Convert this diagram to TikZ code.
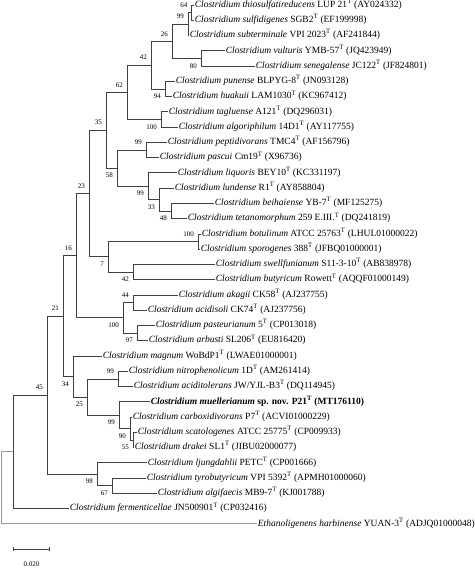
\documentclass[tikz,border=0pt]{standalone}
\usepackage{fontspec}
\setmainfont{Liberation Serif}
\usetikzlibrary{arrows.meta}
\newcommand{\taxon}[3]{\textit{#1} #2\textsuperscript{T} (#3)}
\tikzset{
  branch/.style={draw=black!75, line width=0.8pt},
  rootline/.style={draw=black!40, line width=1.1pt},
  leaf/.style={anchor=west, inner sep=0.6pt, text height=6.5pt, text depth=2pt, font=\fontsize{9.5}{11}\selectfont},
  bsa/.style={anchor=east, xshift=-4pt, yshift=7.5pt, inner sep=0pt, font=\fontsize{7}{8}\selectfont},
  bsb/.style={anchor=east, xshift=-4pt, yshift=-7.5pt, inner sep=0pt, font=\fontsize{7}{8}\selectfont},
  scalebar/.style={draw=black!75, line width=0.8pt, {Bar[width=4pt]}-{Bar[width=4pt]}}
}
\begin{document}
\begin{tikzpicture}[x=1pt,y=-1pt]
\useasboundingbox (0,0) rectangle (474,569);

\node[leaf] (thio) at (194,5.5) {\taxon{Clostridium thiosulfatireducens}{LUP 21}{AY024332}};
\node[leaf] (sulf) at (194,20.3) {\taxon{Clostridium sulfidigenes}{SGB2}{EF199998}};
\node[leaf] (subt) at (189,35.5) {\taxon{Clostridium subterminale}{VPI 2023}{AF241844}};
\node[leaf] (vult) at (225,50.8) {\taxon{Clostridium vulturis}{YMB-57}{JQ423949}};
\node[leaf] (sene) at (255,66.0) {\taxon{Clostridium senegalense}{JC122}{JF824801}};
\node[leaf] (pune) at (175,81.3) {\taxon{Clostridium punense}{BLPYG-8}{JN093128}};
\node[leaf] (huak) at (172,96.6) {\taxon{Clostridium huakuii}{LAM1030}{KC967412}};
\node[leaf] (tagl) at (168,111.8) {\taxon{Clostridium tagluense}{A121}{DQ296031}};
\node[leaf] (algo) at (178,127.1) {\taxon{Clostridium algoriphilum}{14D1}{AY117755}};
\node[leaf] (pept) at (167,142.3) {\taxon{Clostridium peptidivorans}{TMC4}{AF156796}};
\node[leaf] (pasc) at (159,157.6) {\taxon{Clostridium pascui}{Cm19}{X96736}};
\node[leaf] (liqu) at (177,172.9) {\taxon{Clostridium liquoris}{BEY10}{KC331197}};
\node[leaf] (lund) at (174,188.1) {\taxon{Clostridium lundense}{R1}{AY858804}};
\node[leaf] (beih) at (214,203.4) {\taxon{Clostridium beihaiense}{YB-7}{MF125275}};
\node[leaf] (teta) at (187,218.6) {\taxon{Clostridium tetanomorphum}{259 E.III.}{DQ241819}};
\node[leaf] (botu) at (201,233.9) {\taxon{Clostridium botulinum}{ATCC 25763}{LHUL01000022}};
\node[leaf] (spor) at (200,249.2) {\taxon{Clostridium sporogenes}{388}{JFBQ01000001}};
\node[leaf] (swel) at (215,264.4) {\taxon{Clostridium swellfunianum}{S11-3-10}{AB838978}};
\node[leaf] (buty) at (215,279.7) {\taxon{Clostridium butyricum}{Rowett}{AQQF01000149}};
\node[leaf] (akag) at (178,294.9) {\taxon{Clostridium akagii}{CK58}{AJ237755}};
\node[leaf] (acis) at (147,310.2) {\taxon{Clostridium acidisoli}{CK74}{AJ237756}};
\node[leaf] (past) at (155,325.5) {\taxon{Clostridium pasteurianum}{5}{CP013018}};
\node[leaf] (arbu) at (148,340.7) {\taxon{Clostridium arbusti}{SL206}{EU816420}};
\node[leaf] (magn) at (102,356.0) {\taxon{Clostridium magnum}{WoBdP1}{LWAE01000001}};
\node[leaf] (nitr) at (128,371.2) {\taxon{Clostridium nitrophenolicum}{1D}{AM261414}};
\node[leaf] (acit) at (133,386.5) {\taxon{Clostridium aciditolerans}{JW/YJL-B3}{DQ114945}};
\node[leaf] (muel) at (150,401.8) {\textbf{\textit{Clostridium muellerianum} sp. nov. P21\textsuperscript{T} (MT176110)}};
\node[leaf] (carb) at (132,417.0) {\taxon{Clostridium carboxidivorans}{P7}{ACVI01000229}};
\node[leaf] (scat) at (137,432.3) {\taxon{Clostridium scatologenes}{ATCC 25775}{CP009933}};
\node[leaf] (drak) at (134,447.5) {\taxon{Clostridium drakei}{SL1}{JIBU02000077}};
\node[leaf] (ljun) at (147,462.8) {\taxon{Clostridium ljungdahlii}{PETC}{CP001666}};
\node[leaf] (tyro) at (146,478.1) {\taxon{Clostridium tyrobutyricum}{VPI 5392}{APMH01000060}};
\node[leaf] (algi) at (157,493.3) {\taxon{Clostridium algifaecis}{MB9-7}{KJ001788}};
\node[leaf] (ferm) at (69,508.6) {\taxon{Clostridium fermenticellae}{JN500901}{CP032416}};
\node[leaf] (etha) at (257,523.8) {\taxon{Ethanoligenens harbinense}{YUAN-3}{ADJQ01000048}};

\coordinate (n64) at (191.5,12.9);
\coordinate (n99a) at (188,24.2);
\coordinate (n80) at (201,58.4);
\coordinate (n26) at (172,41.3);
\coordinate (n94) at (165,89.0);
\coordinate (n42a) at (151,65.1);
\coordinate (n100a) at (161,119.5);
\coordinate (n62) at (127,92.3);
\coordinate (n99b) at (146,150.0);
\coordinate (n48) at (171,211.0);
\coordinate (n33) at (159,199.6);
\coordinate (n99c) at (148,186.2);
\coordinate (n58) at (117,168.1);
\coordinate (n35) at (106,130.2);
\coordinate (n100b) at (198,241.5);
\coordinate (n42b) at (133,272.0);
\coordinate (n7) at (108,256.8);
\coordinate (n23) at (89,193.5);
\coordinate (n44) at (133,302.5);
\coordinate (n97) at (137,333.1);
\coordinate (n100c) at (123,317.8);
\coordinate (n16) at (76,255.6);
\coordinate (n99d) at (118,378.9);
\coordinate (n55) at (133,439.9);
\coordinate (n90) at (130,428.5);
\coordinate (n99e) at (119,415.2);
\coordinate (n25) at (87,397.0);
\coordinate (n34) at (73,376.5);
\coordinate (n21) at (63,316.0);
\coordinate (n67) at (112,485.7);
\coordinate (n98) at (97,474.2);
\coordinate (n45) at (47,395.2);
\coordinate (base) at (13,451.9);
\coordinate (root) at (1.5,487.9);

\draw[branch] (n64) |- (thio.west);
\draw[branch] (n64) |- (sulf.west);
\draw[branch] (n99a) |- (n64);
\draw[branch] (n99a) |- (subt.west);
\draw[branch] (n80) |- (vult.west);
\draw[branch] (n80) |- (sene.west);
\draw[branch] (n26) |- (n99a);
\draw[branch] (n26) |- (n80);
\draw[branch] (n94) |- (pune.west);
\draw[branch] (n94) |- (huak.west);
\draw[branch] (n42a) |- (n26);
\draw[branch] (n42a) |- (n94);
\draw[branch] (n100a) |- (tagl.west);
\draw[branch] (n100a) |- (algo.west);
\draw[branch] (n62) |- (n42a);
\draw[branch] (n62) |- (n100a);
\draw[branch] (n99b) |- (pept.west);
\draw[branch] (n99b) |- (pasc.west);
\draw[branch] (n48) |- (beih.west);
\draw[branch] (n48) |- (teta.west);
\draw[branch] (n33) |- (lund.west);
\draw[branch] (n33) |- (n48);
\draw[branch] (n99c) |- (liqu.west);
\draw[branch] (n99c) |- (n33);
\draw[branch] (n58) |- (n99b);
\draw[branch] (n58) |- (n99c);
\draw[branch] (n35) |- (n62);
\draw[branch] (n35) |- (n58);
\draw[branch] (n100b) |- (botu.west);
\draw[branch] (n100b) |- (spor.west);
\draw[branch] (n42b) |- (swel.west);
\draw[branch] (n42b) |- (buty.west);
\draw[branch] (n7) |- (n100b);
\draw[branch] (n7) |- (n42b);
\draw[branch] (n23) |- (n35);
\draw[branch] (n23) |- (n7);
\draw[branch] (n44) |- (akag.west);
\draw[branch] (n44) |- (acis.west);
\draw[branch] (n97) |- (past.west);
\draw[branch] (n97) |- (arbu.west);
\draw[branch] (n100c) |- (n44);
\draw[branch] (n100c) |- (n97);
\draw[branch] (n16) |- (n23);
\draw[branch] (n16) |- (n100c);
\draw[branch] (n99d) |- (nitr.west);
\draw[branch] (n99d) |- (acit.west);
\draw[branch] (n55) |- (scat.west);
\draw[branch] (n55) |- (drak.west);
\draw[branch] (n90) |- (carb.west);
\draw[branch] (n90) |- (n55);
\draw[branch] (n99e) |- (muel.west);
\draw[branch] (n99e) |- (n90);
\draw[branch] (n25) |- (n99d);
\draw[branch] (n25) |- (n99e);
\draw[branch] (n34) |- (magn.west);
\draw[branch] (n34) |- (n25);
\draw[branch] (n21) |- (n16);
\draw[branch] (n21) |- (n34);
\draw[branch] (n67) |- (tyro.west);
\draw[branch] (n67) |- (algi.west);
\draw[branch] (n98) |- (ljun.west);
\draw[branch] (n98) |- (n67);
\draw[branch] (n45) |- (n21);
\draw[branch] (n45) |- (n98);
\draw[branch] (base) |- (n45);
\draw[branch] (base) |- (ferm.west);
\draw[rootline] (root) |- (base);
\draw[rootline] (root) |- (etha.west);

\node[bsa] at (n64) {64};
\node[bsa] at (n99a) {99};
\node[bsb] at (n80) {80};
\node[bsa] at (n26) {26};
\node[bsb] at (n94) {94};
\node[bsa] at (n42a) {42};
\node[bsb] at (n100a) {100};
\node[bsa] at (n62) {62};
\node[bsa] at (n99b) {99};
\node[bsb] at (n48) {48};
\node[bsb] at (n33) {33};
\node[bsb] at (n99c) {99};
\node[bsb] at (n58) {58};
\node[bsa] at (n35) {35};
\node[bsa] at (n100b) {100};
\node[bsb] at (n42b) {42};
\node[bsb] at (n7) {7};
\node[bsa] at (n23) {23};
\node[bsa] at (n44) {44};
\node[bsb] at (n97) {97};
\node[bsb] at (n100c) {100};
\node[bsa] at (n16) {16};
\node[bsa] at (n99d) {99};
\node[bsb] at (n55) {55};
\node[bsb] at (n90) {90};
\node[bsb] at (n99e) {99};
\node[bsb] at (n25) {25};
\node[bsb] at (n34) {34};
\node[bsa] at (n21) {21};
\node[bsb] at (n67) {67};
\node[bsb] at (n98) {98};
\node[bsa] at (n45) {45};

\coordinate (sbl) at (13,549);
\coordinate (sbr) at (50,549);
\draw[scalebar] (sbl) -- (sbr);
\node[font=\fontsize{7}{8}\selectfont, inner sep=0pt] (sbtext) at (31.5,564.5) {0.020};
\end{tikzpicture}
\end{document}
